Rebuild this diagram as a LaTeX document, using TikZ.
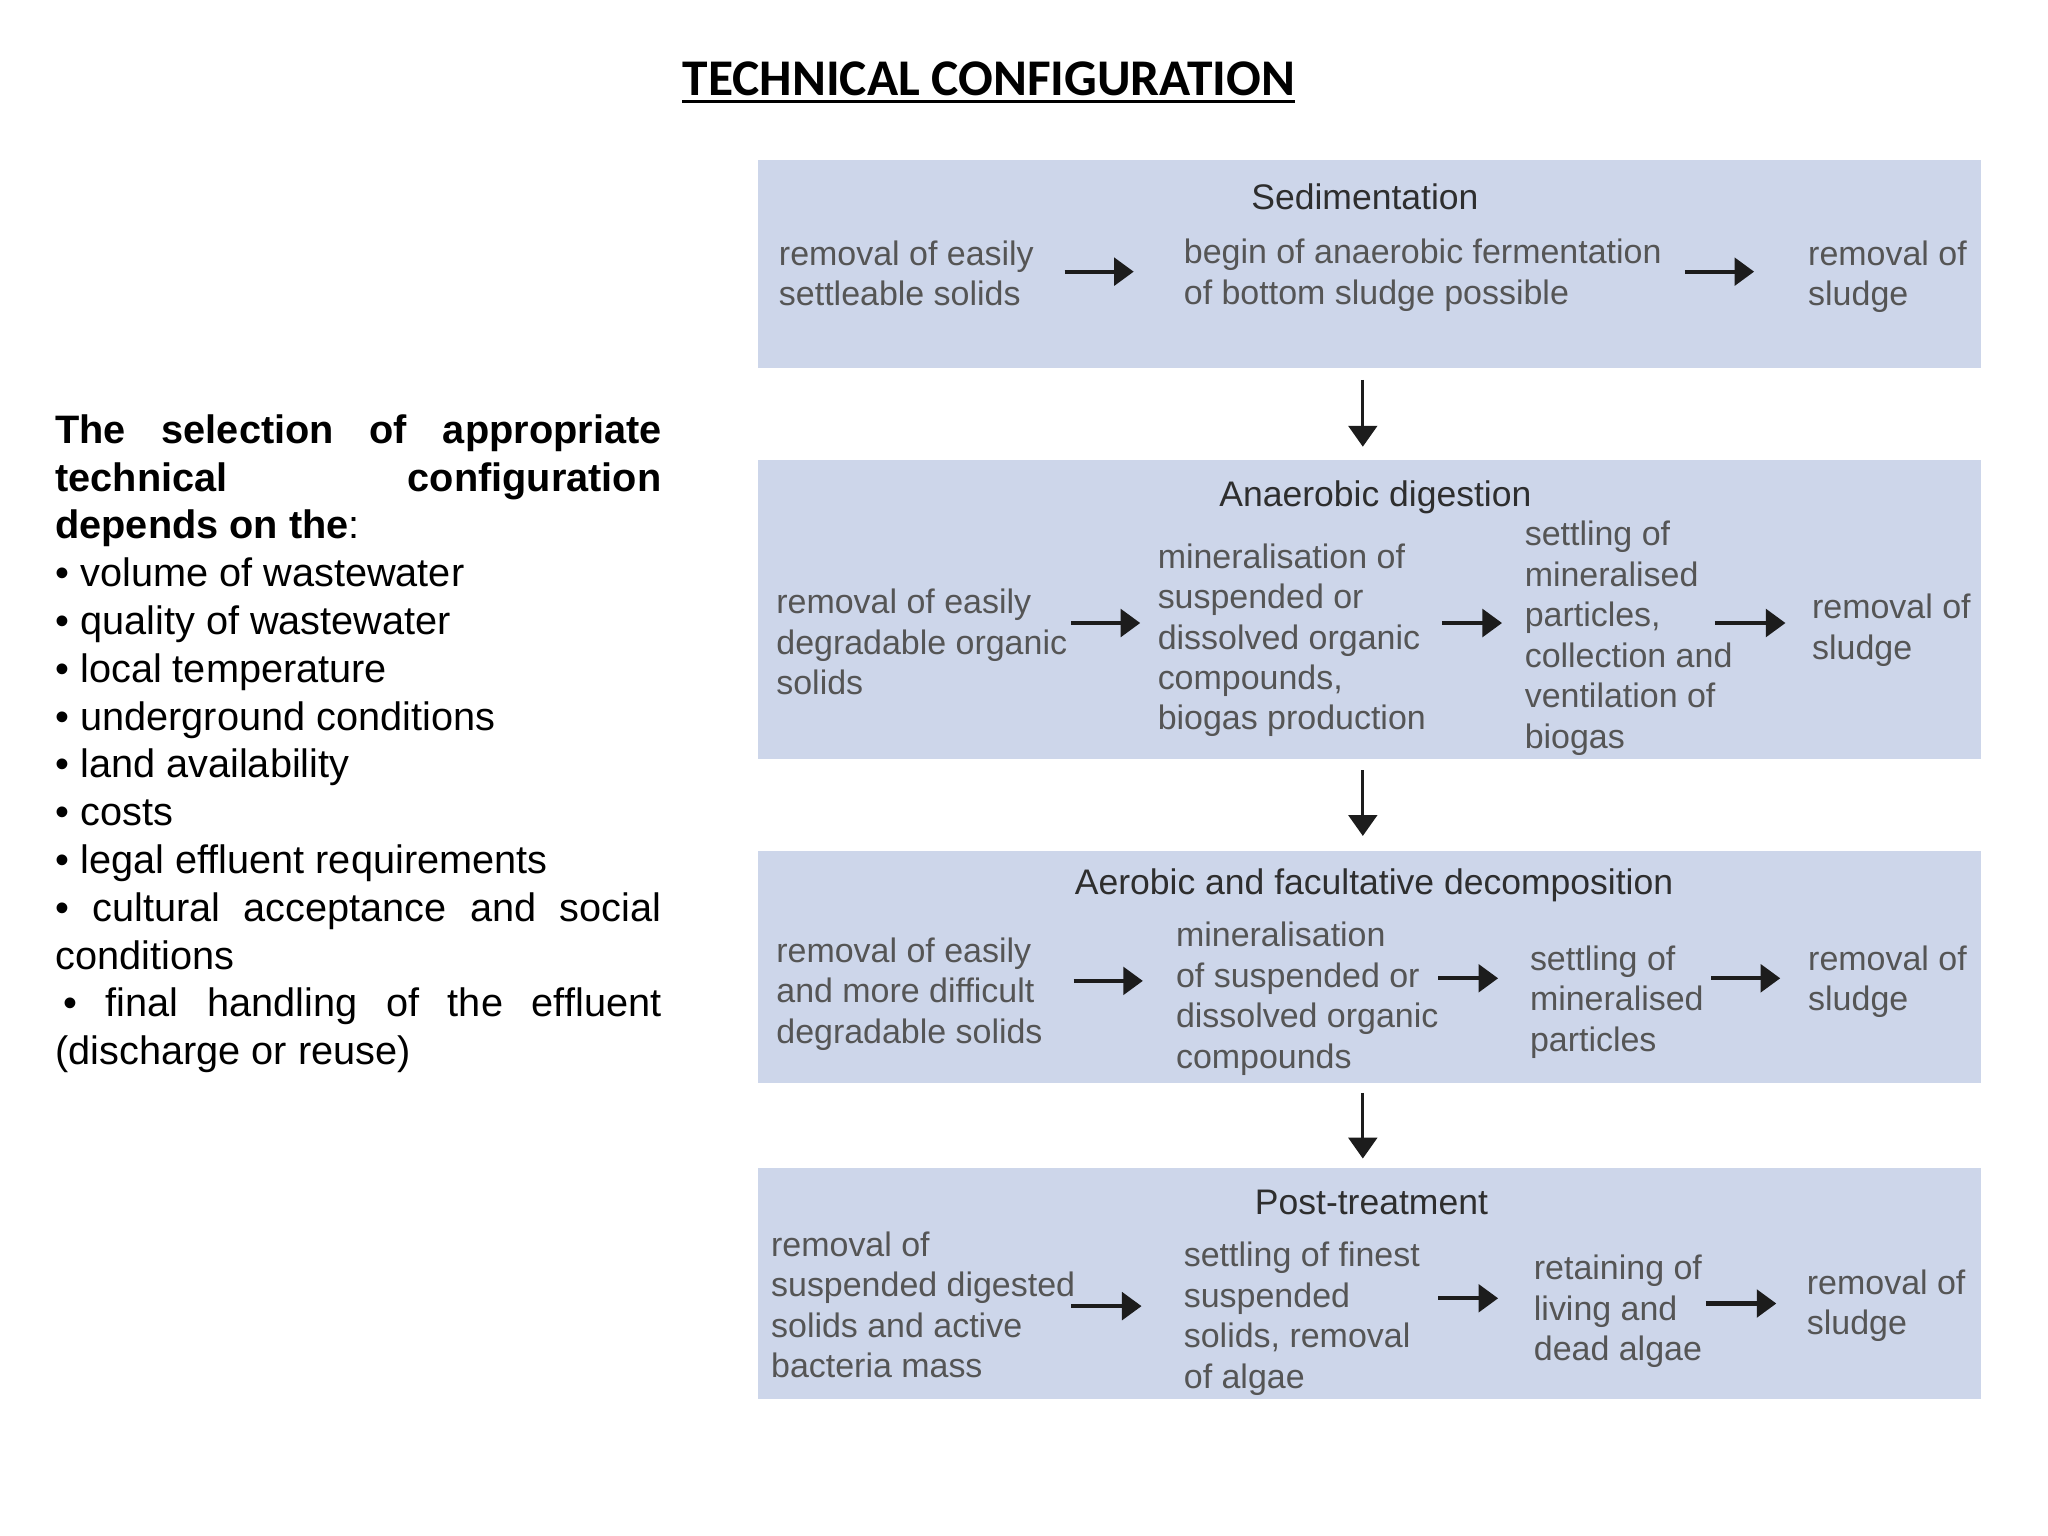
\documentclass[tikz,border=0pt]{standalone}
\usepackage{fontspec}
\setmainfont{Liberation Sans}
\newfontfamily\titlefont{Carlito}
\usetikzlibrary{arrows.meta}
\definecolor{boxfill}{HTML}{CDD6EA}
\definecolor{boxtext}{HTML}{555555}
\definecolor{headtext}{HTML}{2E2E2E}
\definecolor{arrowcol}{HTML}{1C1C1C}
\newcommand{\fl}{\rule{0pt}{9.5pt}}
\begin{document}
\begin{tikzpicture}[x=0.5pt,y=-0.5pt,
  stagebox/.style={fill=boxfill,draw=none,inner sep=0,anchor=north west},
  stagetitle/.style={anchor=base,inner sep=0,text=headtext,font=\fontsize{13.6}{16}\selectfont},
  steptext/.style={anchor=north west,inner sep=0,align=left,text=boxtext,font=\fontsize{13}{15.5}\selectfont},
  flowarrow/.style={draw=arrowcol,line width=1.6pt,-{Triangle[length=7.5pt,width=10.5pt]}},
  downarrow/.style={draw=arrowcol,line width=1.1pt,-{Triangle[length=8pt,width=11pt]}}
]
\useasboundingbox (0,0) rectangle (1568,1176);

% title
\node (title) [anchor=base,inner sep=0,font=\titlefont\bfseries\fontsize{19.7}{23}\selectfont] at (757,73.5) {TECHNICAL CONFIGURATION};
\draw[line width=1.1pt] ([yshift=-2.2pt]title.base west) -- ([yshift=-2.2pt]title.base east);

% left text
\node (lefttext) [anchor=north west,inner sep=0,align=left,font=\fontsize{15.2}{18.3}\selectfont] at (42,317) {%
\rule{0pt}{11pt}\makebox[232pt][s]{\bfseries The selection of appropriate}\\
\makebox[232pt][s]{\bfseries technical configuration}\\
\textbf{depends on the}:\\
\textbullet\ volume of wastewater\\
\textbullet\ quality of wastewater\\
\textbullet\ local temperature\\
\textbullet\ underground conditions\\
\textbullet\ land availability\\
\textbullet\ costs\\
\textbullet\ legal effluent requirements\\
\makebox[232pt][s]{\textbullet\ cultural acceptance and social}\\
conditions\\
\makebox[232pt][s]{\hspace*{3pt}\textbullet\ final handling of the effluent}\\
(discharge or reuse)};

% boxes
\node (b1) [stagebox,minimum width=468pt,minimum height=79.5pt] at (580,122) {};
\node (b2) [stagebox,minimum width=468pt,minimum height=114.5pt] at (580,352) {};
\node (b3) [stagebox,minimum width=468pt,minimum height=89pt] at (580,651) {};
\node (b4) [stagebox,minimum width=468pt,minimum height=88.5pt] at (580,894) {};

% down arrows
\draw[downarrow,shorten <=4.5pt,shorten >=5pt] ([xshift=-2.5pt]b1.south) -- ([xshift=-2.5pt]b2.north);
\draw[downarrow,shorten <=4pt,shorten >=5.5pt] ([xshift=-2.5pt]b2.south) -- ([xshift=-2.5pt]b3.north);
\draw[downarrow,shorten <=3.5pt,shorten >=3.5pt] ([xshift=-2.5pt]b3.south) -- ([xshift=-2.5pt]b4.north);

% box 1
\node (s1t) [stagetitle] at (1045,160.5) {Sedimentation};
\node (s1a) [steptext] at (596,183.5) {\fl removal of easily\\settleable solids};
\node (s1b) [steptext] at (906,182.5) {\fl begin of anaerobic fermentation\\of bottom sludge possible};
\node (s1c) [steptext] at (1384,183.5) {\fl removal of\\sludge};
\coordinate (a11s) at (815,208); \coordinate (a11e) at (868,208);
\coordinate (a12s) at (1290,208); \coordinate (a12e) at (1343,208);
\draw[flowarrow] (a11s) -- (a11e);
\draw[flowarrow] (a12s) -- (a12e);

% box 2
\node (s2t) [stagetitle] at (1053,387.5) {Anaerobic digestion};
\node (s2a) [steptext] at (594,450.5) {\fl removal of easily\\degradable organic\\solids};
\node (s2b) [steptext] at (886,415.5) {\fl mineralisation of\\suspended or\\dissolved organic\\compounds,\\biogas production};
\node (s2c) [steptext] at (1167,398.5) {\fl settling of\\mineralised\\particles,\\collection and\\ventilation of\\biogas};
\node (s2d) [steptext] at (1387,454.5) {\fl removal of\\sludge};
\coordinate (a21s) at (820,477); \coordinate (a21e) at (873,477);
\coordinate (a22s) at (1104,477); \coordinate (a22e) at (1150,477);
\coordinate (a23s) at (1313,477); \coordinate (a23e) at (1367,477);
\draw[flowarrow] (a21s) -- (a21e);
\draw[flowarrow] (a22s) -- (a22e);
\draw[flowarrow] (a23s) -- (a23e);

% box 3
\node (s3t) [stagetitle] at (1052,684.5) {Aerobic and facultative decomposition};
\node (s3a) [steptext] at (594,717.5) {\fl removal of easily\\and more difficult\\degradable solids};
\node (s3b) [steptext] at (900,705.5) {\fl mineralisation\\of suspended or\\dissolved organic\\compounds};
\node (s3c) [steptext] at (1171,723.5) {\fl settling of\\mineralised\\particles};
\node (s3d) [steptext] at (1384,723.5) {\fl removal of\\sludge};
\coordinate (a31s) at (822,751); \coordinate (a31e) at (875,751);
\coordinate (a32s) at (1101,749); \coordinate (a32e) at (1147,749);
\coordinate (a33s) at (1310,749); \coordinate (a33e) at (1363,749);
\draw[flowarrow] (a31s) -- (a31e);
\draw[flowarrow] (a32s) -- (a32e);
\draw[flowarrow] (a33s) -- (a33e);

% box 4
\node (s4t) [stagetitle] at (1050,929.5) {Post-treatment};
\node (s4a) [steptext] at (590,942.5) {\fl removal of\\suspended digested\\solids and active\\bacteria mass};
\node (s4b) [steptext] at (906,950.5) {\fl settling of finest\\suspended\\solids, removal\\of algae};
\node (s4c) [steptext] at (1174,960.5) {\fl retaining of\\living and\\dead algae};
\node (s4d) [steptext] at (1383,971.5) {\fl removal of\\sludge};
\coordinate (a41s) at (820,1000); \coordinate (a41e) at (874,1000);
\coordinate (a42s) at (1101,994); \coordinate (a42e) at (1147,994);
\coordinate (a43s) at (1306,998); \coordinate (a43e) at (1360,998);
\draw[flowarrow] (a41s) -- (a41e);
\draw[flowarrow] (a42s) -- (a42e);
\draw[flowarrow] (a43s) -- (a43e);
\end{tikzpicture}
\end{document}
